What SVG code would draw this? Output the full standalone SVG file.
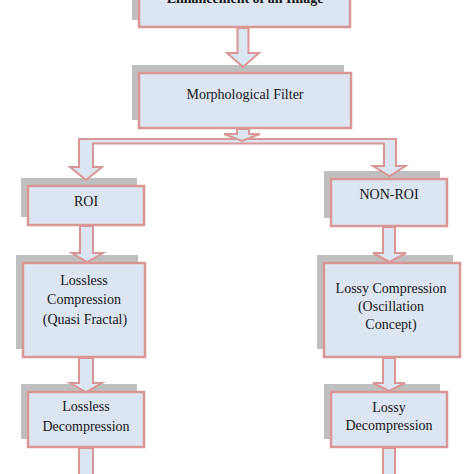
<svg xmlns="http://www.w3.org/2000/svg" width="474" height="474" viewBox="0 0 474 474">
<style>
.box{fill:#dce6f2;stroke:#d99694;stroke-width:2.5}
.shadow{fill:#bfbfbf}
.arrow{fill:#dce6f2;stroke:#d99694;stroke-width:2;stroke-linejoin:miter}
text{font-family:"Liberation Serif","Times New Roman",serif;font-size:14px;fill:#151515;text-anchor:middle}
.bold{font-weight:bold}
</style>
<rect width="474" height="474" fill="#ffffff"/>
<g id="node-enhancement">
<rect class="shadow" x="132" y="-38" width="211" height="58"/>
<rect class="box" x="139" y="-30" width="211" height="57"/>
<text class="bold" x="245" y="3">Enhancement of an Image</text>
</g>
<g id="node-morph">
<rect class="shadow" x="132" y="65" width="212" height="55"/>
<rect class="box" x="139" y="73" width="212" height="55"/>
<text x="245" y="99">Morphological Filter</text>
</g>
<g id="node-roi">
<rect class="shadow" x="21" y="178" width="116" height="39"/>
<rect class="box" x="28" y="186" width="116" height="39"/>
<text x="86" y="206">ROI</text>
</g>
<g id="node-nonroi">
<rect class="shadow" x="324" y="171" width="116" height="47"/>
<rect class="box" x="331" y="179" width="116" height="47"/>
<text x="389" y="199">NON-ROI</text>
</g>
<g id="node-lossless-comp">
<rect class="shadow" x="16" y="255" width="122" height="94"/>
<rect class="box" x="23" y="263" width="122" height="94"/>
<text x="84" y="285">Lossless</text>
<text x="84" y="304">Compression</text>
<text x="85" y="324">(Quasi Fractal)</text>
</g>
<g id="node-lossy-comp">
<rect class="shadow" x="317" y="255" width="136" height="94"/>
<rect class="box" x="324" y="263" width="136" height="94"/>
<text x="391" y="293">Lossy Compression</text>
<text x="391" y="311">(Oscillation</text>
<text x="391" y="329">Concept)</text>
</g>
<g id="node-lossless-decomp">
<rect class="shadow" x="21" y="384" width="116" height="55"/>
<rect class="box" x="28" y="392" width="116" height="55"/>
<text x="86" y="411">Lossless</text>
<text x="86" y="431">Decompression</text>
</g>
<g id="node-lossy-decomp">
<rect class="shadow" x="324" y="384" width="116" height="55"/>
<rect class="box" x="331" y="392" width="116" height="55"/>
<text x="389" y="412">Lossy</text>
<text x="389" y="430">Decompression</text>
</g>
<g id="connectors">
<polygon class="arrow" points="237.5,28 248.5,28 248.5,53 259,53 243,67 227,53 237.5,53"/>
<polygon class="arrow" points="79,139 396,139 396,166 405.5,166 389.5,176 373,166 384,166 384,143.5 93,143.5 93,167 102,167 86,180 70,167 79,167"/>
<polygon class="arrow" points="237,129 249,129 249,134 260,134 242,141 224,134 237,134"/>
<polygon class="arrow" points="80,226 93,226 93,253 103,253 87,262 72,253 80,253"/>
<polygon class="arrow" points="383,227 395,227 395,253 406,253 389.5,262 373,253 383,253"/>
<polygon class="arrow" points="79,358 93,358 93,383 102,383 86,392 70,383 79,383"/>
<polygon class="arrow" points="383,358 395,358 395,383 405,383 389,391 373,383 383,383"/>
<polygon class="arrow" points="79,448 93,448 93,480 79,480"/>
<polygon class="arrow" points="383,448 395,448 395,480 383,480"/>
</g>
</svg>
